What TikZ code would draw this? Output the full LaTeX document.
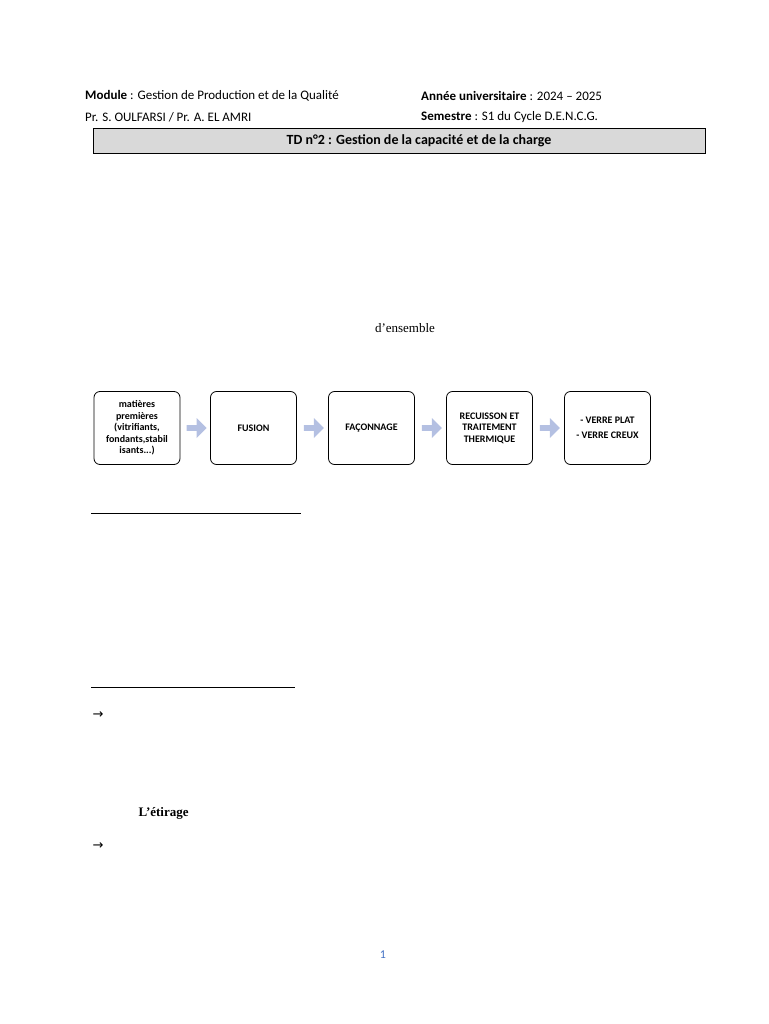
\documentclass[tikz,border=0pt]{standalone}
\usepackage{fontspec}
\setmainfont{Carlito}
\newfontfamily\serif{Liberation Serif}
\newfontfamily\dejavu{DejaVu Sans}
\usetikzlibrary{shapes.arrows,calc}
\definecolor{arrowblue}{HTML}{B4C0E2}
\definecolor{titlegray}{HTML}{D9D9D9}
\definecolor{pageblue}{HTML}{4472C4}
\tikzset{
  stepbox/.style={draw, thick, rounded corners=6pt, minimum width=86pt, minimum height=73pt, align=center, font=\fontsize{10}{11.5}\selectfont\bfseries, inner sep=2pt},
  flowarrow/.style={single arrow, fill=arrowblue, minimum width=20pt, minimum height=20pt, single arrow head extend=3pt, inner sep=1pt},
  hdr/.style={anchor=west, font=\fontsize{13}{15}\selectfont, inner sep=0pt}
}
\begin{document}
\begin{tikzpicture}[x=1pt,y=-1pt]
\useasboundingbox (0,0) rectangle (768,1024);
\node[hdr] (h1) at (85,96) {\textbf{Module} : Gestion de Production et de la Qualité};
\node[hdr] (h2) at (421,96) {\textbf{Année universitaire} : 2024 -- 2025};
\node[hdr] (h3) at (85,117) {Pr. S. OULFARSI / Pr. A. EL AMRI};
\node[hdr] (h4) at (421,117) {\textbf{Semestre} : S1 du Cycle D.E.N.C.G.};
\draw[fill=titlegray] (93,128) rectangle (705,153);
\node[font=\fontsize{14}{16}\selectfont\bfseries] (title) at (419,140.5) {TD n°2 : Gestion de la capacité et de la charge};
\node[font=\serif\fontsize{13}{15}\selectfont] (ens) at (405,328) {d’ensemble};
\node[stepbox] (b1) at (137,428) {matières\\premières\\(vitrifiants,\\fondants,stabil\\isants...)};
\node[stepbox] (b2) at (253.5,428) {FUSION};
\node[stepbox] (b3) at (371.5,428) {FAÇONNAGE};
\node[stepbox] (b4) at (489.5,428) {RECUISSON ET\\TRAITEMENT\\THERMIQUE};
\node[stepbox] (b5) at (607.5,428) {- VERRE PLAT\\[3pt]- VERRE CREUX};
\foreach \a/\b in {b1/b2,b2/b3,b3/b4,b4/b5}
  \node[flowarrow] (ar\a) at ($(\a.east)!0.5!(\b.west)$) {};
\coordinate (l1a) at (91,513); \coordinate (l1b) at (301,513);
\draw[thick] (l1a) -- (l1b);
\coordinate (l2a) at (91,687); \coordinate (l2b) at (295,687);
\draw[thick] (l2a) -- (l2b);
\node[font=\dejavu\fontsize{13}{15}\selectfont] (r1) at (98,715) {→};
\node[font=\serif\bfseries\fontsize{13}{15}\selectfont, anchor=west] (et) at (135,813) {L’étirage};
\node[font=\dejavu\fontsize{13}{15}\selectfont] (r2) at (98,846) {→};
\node[font=\fontsize{12}{14}\selectfont, text=pageblue] (pg) at (383,955) {1};
\end{tikzpicture}
\end{document}
